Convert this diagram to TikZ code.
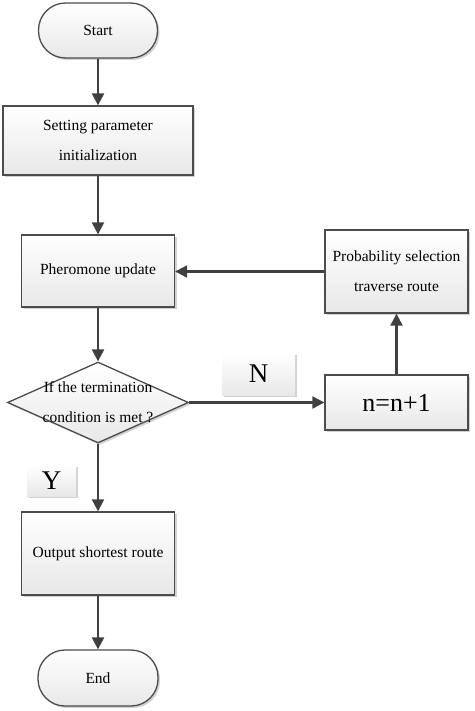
\documentclass[tikz,border=0pt]{standalone}
\usepackage{fontspec}
\setmainfont{Liberation Serif}
\usetikzlibrary{arrows.meta, shapes.geometric, shadows}

\begin{document}
\begin{tikzpicture}[x=1pt, y=-1pt,
    every node/.style={font=\fontsize{15.5}{30}\selectfont, align=center},
    plate/.style={top color=white, bottom color=gray!18, drop shadow={shadow xshift=2pt, shadow yshift=-2pt, fill=gray!35, opacity=1}},
    box/.style={plate, draw=black!70, line width=1.3pt, rectangle, inner sep=0pt},
    term/.style={box, rounded corners=27pt},
    decide/.style={plate, draw=black!70, line width=1.3pt, diamond, inner sep=0pt},
    tag/.style={plate, rectangle, inner sep=0pt, font=\fontsize{27}{27}\selectfont},
    flow/.style={draw=black!75, line width=2.2pt, -{Triangle[length=12pt, width=12pt]}}]
      \useasboundingbox (0, 0) rectangle (474, 711);

      \node[term, minimum width=119pt, minimum height=55pt] (start) at (98, 30.5) {Start};
      \node[box, minimum width=190pt, minimum height=69pt] (setup) at (98, 140.5) {Setting parameter\\initialization};
      \node[box, minimum width=153pt, minimum height=72pt] (update) at (98, 271) {Pheromone update};
      \node[decide, minimum width=181pt, minimum height=81pt, label=center:{If the termination\\condition is met ?}] (cond) at (98, 402.5) {};
      \node[tag, minimum width=73pt, minimum height=42pt] (no) at (258.5, 374) {N};
      \node[box, minimum width=143pt, minimum height=55pt, font=\fontsize{26}{26}\selectfont] (incr) at (396.5, 402.5) {n=n+1};
      \node[box, minimum width=143pt, minimum height=83pt] (prob) at (396.5, 271.5) {Probability selection\\traverse route};
      \node[tag, minimum width=49pt, minimum height=31pt] (yes) at (51.5, 480.5) {Y};
      \node[box, minimum width=153pt, minimum height=83pt] (output) at (98, 553.5) {Output shortest route};
      \node[term, minimum width=120pt, minimum height=56pt] (finish) at (98, 678) {End};

      \draw[flow] (start) -- (setup);
      \draw[flow] (setup) -- (update);
      \draw[flow] (update) -- (cond.north);
      \draw[flow] (cond.south) -- (output);
      \draw[flow] (output) -- (finish);
      \draw[flow] (cond.east) -- (incr.west);
      \draw[flow] (incr) -- (prob);
      \draw[flow] (prob.west) -- (prob.west -| update.east);
    \end{tikzpicture}
\end{document}
